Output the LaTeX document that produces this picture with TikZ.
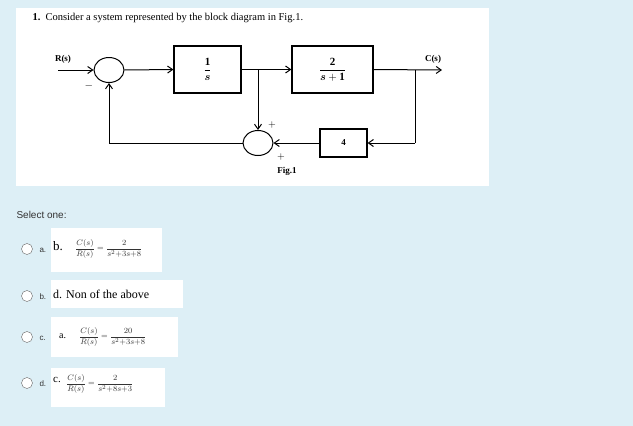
\documentclass[tikz,border=0pt]{standalone}
\usepackage{amsmath}
\usepackage{bm}
\usepackage{fontspec}
\setmainfont{Liberation Serif}
\setsansfont{Liberation Sans}
\usetikzlibrary{arrows.meta,shapes.geometric}
\definecolor{bgc}{HTML}{DDEFF6}
\definecolor{optc}{HTML}{333333}
\tikzset{
 blk/.style={draw,line width=1.2pt,minimum width=#1,minimum height=47pt,inner sep=0pt,font=\bfseries\fontsize{11}{12}\selectfont},
 summ/.style={draw,line width=1pt,ellipse,minimum width=30pt,minimum height=25pt,inner sep=0pt},
 sig/.style={line width=1pt,-{Straight Barb[length=5pt,width=7pt]}},
 wire/.style={line width=1pt},
 lbl/.style={font=\bfseries\fontsize{9}{10}\selectfont},
 radio/.style={draw=gray!80!black,fill=white,circle,minimum size=11pt,inner sep=0pt},
 opt/.style={font=\sffamily\fontsize{8}{9}\selectfont,text=optc},
 frac/.style={font=\fontsize{8.5}{9}\selectfont,text=optc}
}
\begin{document}
\begin{tikzpicture}[x=1pt,y=-1pt]
\fill[bgc] (0,0) rectangle (633,426);
\useasboundingbox (0,0) rectangle (633,426);
\fill[white] (16,8) rectangle (489,186);
\node[anchor=west,font=\fontsize{10.5}{12}\selectfont] (title) at (29,18) {\textbf{1.}\ \ Consider a system represented by the block diagram in Fig.1.};
\node[summ] (s1) at (109,70) {};
\node[summ] (s2) at (258,143) {};
\node[blk=67pt] (b1) at (207.5,69.5) {$\dfrac{\mathbf 1}{\bm s}$};
\node[blk=81pt] (b2) at (332.5,69.5) {$\dfrac{\mathbf 2}{\bm{s}+\mathbf 1}$};
\node[blk=47pt,minimum height=28pt,font=\bfseries\fontsize{9}{10}\selectfont] (b4) at (343.5,143) {4};
\coordinate (in) at (58,70);
\coordinate (out) at (442,70);
\coordinate (j1) at (258,70);
\coordinate (j2) at (415,70);
\coordinate (j3) at (415,143);
\coordinate (j4) at (109,143);
\draw[sig] (in) -- (s1.west);
\draw[sig] (s1.east) -- (b1.west);
\draw[sig] (b1.east) -- (b2.west);
\draw[sig] (j1) -- (s2.north);
\draw[sig] (b2.east) -- (out);
\draw[wire] (j2) -- (j3);
\draw[sig] (j3) -- (b4.east);
\draw[sig] (b4.west) -- (s2.east);
\draw[wire] (s2.west) -- (j4);
\draw[sig] (j4) -- (s1.south);
\node[lbl] (rs) at (63,59) {R(s)};
\node[lbl] (cs) at (433,59) {C(s)};
\node[font=\fontsize{11}{10}\selectfont] (mn) at (89,86) {$-$};
\node[font=\fontsize{10}{10}\selectfont] (p1) at (272,125) {$+$};
\node[font=\fontsize{10}{10}\selectfont] (p2) at (281,157) {$+$};
\node[lbl] (fig) at (287,171) {Fig.1};
% options
\node[anchor=west,font=\sffamily\fontsize{10}{11}\selectfont,text=optc] (sel) at (13,215) {Select one:};
\fill[white] (51,228) rectangle (162,272);
\fill[white] (51,280) rectangle (183,308);
\fill[white] (51,317) rectangle (178,357);
\fill[white] (51,368) rectangle (165,407);
\node[radio] (ra) at (27,249) {};
\node[radio] (rb) at (27,296) {};
\node[radio] (rc) at (27,337) {};
\node[radio] (rd) at (27,383) {};
\node[opt,anchor=west] (la) at (36,250) {a.};
\node[opt,anchor=west] (lb) at (36,297) {b.};
\node[opt,anchor=west] (lc) at (36,338) {c.};
\node[opt,anchor=west] (ld) at (36,384) {d.};
\node[anchor=west,font=\fontsize{13}{14}\selectfont,inner sep=1pt] (ta) at (52,246) {b.};
\node[frac,anchor=west,inner sep=0pt] (fa) at (75,249) {$\dfrac{C(s)}{R(s)}=\dfrac{\;\;\;\;\;2\;\;\;\;\;}{s^2{+}3s{+}8}$};
\node[anchor=west,font=\fontsize{12}{13}\selectfont,inner sep=1pt] (tb) at (52,294) {d. Non of the above};
\node[anchor=west,font=\fontsize{10}{12}\selectfont,inner sep=1pt] (tc) at (58,336) {a.};
\node[frac,anchor=west,inner sep=0pt] (fc) at (79,337) {$\dfrac{C(s)}{R(s)}=\dfrac{\;\;\;\;\;20\;\;\;\;\;}{s^2{+}3s{+}8}$};
\node[anchor=west,font=\fontsize{11}{12}\selectfont,inner sep=1pt] (td) at (52,380) {c.};
\node[frac,anchor=west,inner sep=0pt] (fd) at (66,384) {$\dfrac{C(s)}{R(s)}=\dfrac{\;\;\;\;\;2\;\;\;\;\;}{s^2{+}8s{+}3}$};
\end{tikzpicture}
\end{document}
